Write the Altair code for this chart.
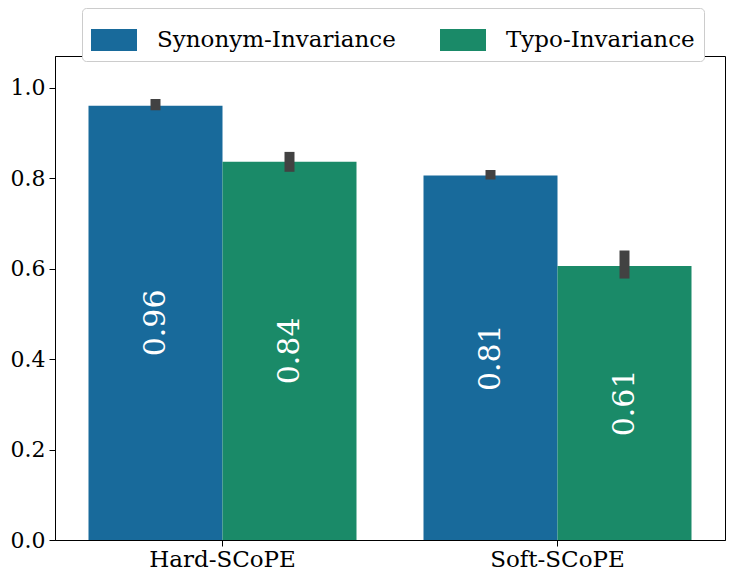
import altair as alt
import pandas as pd

methods = ["Hard-SCoPE", "Hard-SCoPE", "Soft-SCoPE", "Soft-SCoPE"]
tests = ["Synonym-Invariance", "Typo-Invariance", "Synonym-Invariance", "Typo-Invariance"]
means = [0.960, 0.836, 0.806, 0.606]
ci_low = [0.950, 0.814, 0.797, 0.578]
ci_high = [0.975, 0.858, 0.818, 0.640]
labels = ["0.96", "0.84", "0.81", "0.61"]

df = pd.DataFrame({
    "method": methods,
    "test": tests,
    "mean": means,
    "lo": ci_low,
    "hi": ci_high,
    "label": labels,
})
df["mid"] = df["mean"] / 2

FONT = "DejaVu Serif"
colors = ["#186a9b", "#1a8a68"]
order = ["Synonym-Invariance", "Typo-Invariance"]

base = alt.Chart(df).encode(
    x=alt.X("method:N", title=None,
            scale=alt.Scale(paddingInner=0.2, paddingOuter=0.1),
            axis=alt.Axis(labelAngle=0, tickSize=6, labelPadding=2,
                          labelFontSize=23)),
    xOffset=alt.XOffset("test:N", sort=order,
                        scale=alt.Scale(paddingInner=0, paddingOuter=0)),
)

bars = base.mark_bar().encode(
    y=alt.Y("mean:Q", title=None,
            scale=alt.Scale(domain=[0, 1.07], nice=False),
            axis=alt.Axis(values=[0, 0.2, 0.4, 0.6, 0.8, 1.0], format=".1f",
                          tickSize=6, labelPadding=4, labelFontSize=22)),
    color=alt.Color("test:N", sort=order,
                    scale=alt.Scale(domain=order, range=colors),
                    legend=alt.Legend(
                        title=None, orient="none", legendX=27, legendY=-48,
                        direction="horizontal",
                        symbolType="M-1,-0.48H1V0.48H-1Z", symbolSize=2116,
                        symbolStrokeWidth=0, symbolOpacity=1,
                        labelFont=FONT, labelFontSize=23, labelColor="black",
                        labelLimit=400,
                        labelOffset=20, columnPadding=44, padding=9,
                        strokeColor="#cccccc", fillColor="white",
                        cornerRadius=4)),
)

errs = base.mark_rule(color="#424242", strokeWidth=10, strokeCap="butt").encode(
    y="lo:Q", y2="hi:Q",
)

text = base.mark_text(angle=270, color="white", font=FONT, fontSize=30,
                      align="center", baseline="middle").encode(
    y="mid:Q", text="label:N",
)

chart = alt.layer(bars, errs, text).properties(
    width=670, height=484,
    autosize=alt.AutoSizeParams(type="none"),
    padding={"left": 47, "top": 48, "right": 1, "bottom": 30},
).configure_view(
    stroke="black", strokeWidth=1,
).configure_axis(
    grid=False, domainColor="black", tickColor="black",
    labelFont=FONT, labelColor="black",
)

chart.save("out.html", embed_options={"renderer": "svg", "actions": False})
